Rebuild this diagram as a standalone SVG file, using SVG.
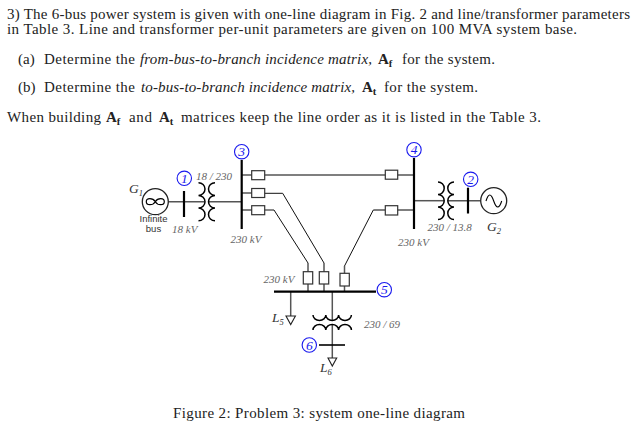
<svg xmlns="http://www.w3.org/2000/svg" width="638" height="434" viewBox="0 0 638 434">
<style>
.t{font-family:"Liberation Serif","Times New Roman",serif;font-size:15px;fill:#222}
.i{font-style:italic}
.b{font-weight:bold}
.s{font-size:10.500px;font-weight:bold}
.lab{font-family:"Liberation Serif",serif;font-style:italic;font-size:11px;fill:#666}
.dk{fill:#333;font-size:13.500px}
.sub{font-size:8.500px}
.num{font-family:"Liberation Serif",serif;font-style:italic;font-size:13.500px;fill:#1a1aee;text-anchor:middle}
.id{fill:#fff;stroke:#1a1aee;stroke-width:1.100}
.bus{stroke:#000;stroke-width:2.200;fill:none}
.wire{stroke:#555;stroke-width:1.500;fill:none}
.diag{stroke:#111;stroke-width:1;fill:none}
.box{fill:#fff;stroke:#333;stroke-width:1.200}
.coil{fill:none;stroke:#000;stroke-width:1.500}
.gen{fill:#fff;stroke:#222;stroke-width:1.300}
.load{fill:#fff;stroke:#222;stroke-width:1.100}
.sans{font-family:"Liberation Sans",Arial,sans-serif;font-size:9.500px;fill:#333;text-anchor:middle}
</style>

<g id="problem-text">
<text class="t" x="7" y="19" textLength="623" lengthAdjust="spacing">3) The 6-bus power system is given with one-line diagram in Fig. 2 and line/transformer parameters</text>
<text class="t" x="7" y="34" textLength="570" lengthAdjust="spacing">in Table 3. Line and transformer per-unit parameters are given on 100 MVA system base.</text>
<text class="t" x="18" y="64">(a)</text>
<text class="t" x="44" y="64" textLength="91" lengthAdjust="spacing">Determine the</text>
<text class="t i" x="140" y="64" textLength="232" lengthAdjust="spacing">from-bus-to-branch incidence matrix,</text>
<text class="t b" x="378" y="64">A<tspan class="s" dy="2.500">f</tspan></text>
<text class="t" x="402" y="64" textLength="93" lengthAdjust="spacing">for the system.</text>
<text class="t" x="18" y="92">(b)</text>
<text class="t" x="44" y="92" textLength="91" lengthAdjust="spacing">Determine the</text>
<text class="t i" x="141" y="92" textLength="214" lengthAdjust="spacing">to-bus-to-branch incidence matrix,</text>
<text class="t b" x="362" y="92">A<tspan class="s" dy="2.500">t</tspan></text>
<text class="t" x="384" y="92" textLength="94" lengthAdjust="spacing">for the system.</text>
<text class="t" x="7" y="122" textLength="94" lengthAdjust="spacing">When building</text>
<text class="t b" x="106" y="122">A<tspan class="s" dy="2.500">f</tspan></text>
<text class="t" x="129" y="122" textLength="23" lengthAdjust="spacing">and</text>
<text class="t b" x="159" y="122">A<tspan class="s" dy="2.500">t</tspan></text>
<text class="t" x="181" y="122" textLength="360" lengthAdjust="spacing">matrices keep the line order as it is listed in the Table 3.</text>
</g>

<g id="connectors">
<path class="wire" d="M168 201.700H204.500"/>
<path class="wire" d="M208.500 201.700H242"/>
<path class="wire" d="M242 175H414"/>
<path class="wire" d="M242 193H265"/>
<path class="wire" d="M242 210H265"/>
<path class="diag" d="M265 193.300H282.700L324 263"/>
<path class="wire" d="M324 263V292"/>
<path class="diag" d="M265 210H274L308 263"/>
<path class="wire" d="M308 263V292"/>
<path class="wire" d="M397 210H414"/>
<path class="wire" d="M385 210H373.300"/>
<path class="diag" d="M373.300 210L344.500 266"/>
<path class="wire" d="M344.500 266V292"/>
<path class="wire" d="M414 200.700H444"/>
<path class="wire" d="M448 200.700H481"/>
<path class="wire" d="M290.700 292V316"/>
<path class="wire" d="M332.300 292V320.500"/>
<path class="wire" d="M332.300 324.500V358"/>
<path class="wire" d="M316 345H302"/>
</g>

<g id="bus1">
<path class="bus" d="M184 191V217"/>
<circle class="id" cx="184.300" cy="178.300" r="7.200"/>
<text class="num" x="184.300" y="182.700">1</text>
<text class="lab" x="172" y="233">18 kV</text>
</g>
<g id="bus2">
<path class="bus" d="M468 187.700V213.500"/>
<circle class="id" cx="470.700" cy="179.300" r="7.200"/>
<text class="num" x="470.700" y="183.700">2</text>
</g>
<g id="bus3">
<path class="bus" d="M241.700 160V229"/>
<circle class="id" cx="241.700" cy="151.700" r="7.200"/>
<text class="num" x="241.700" y="156.200">3</text>
<text class="lab" x="230.500" y="242.500">230 kV</text>
</g>
<g id="bus4">
<path class="bus" d="M414 158V229"/>
<circle class="id" cx="414" cy="149.700" r="7.200"/>
<text class="num" x="414" y="154.200">4</text>
<text class="lab" x="398" y="246">230 kV</text>
</g>
<g id="bus5">
<path class="bus" d="M274 291.700H376"/>
<circle class="id" cx="384.300" cy="289.700" r="7.200"/>
<text class="num" x="384.300" y="294.200">5</text>
<text class="lab" x="263.500" y="283">230 kV</text>
</g>
<g id="bus6">
<path class="bus" d="M319 345H345" style="stroke-width:1.600"/>
<circle class="id" cx="309.300" cy="345" r="7.200"/>
<text class="num" x="309.300" y="349.500">6</text>
</g>

<g id="g1">
<circle class="gen" cx="155.300" cy="201.700" r="13"/>
<path class="coil" d="M155.300 201.700c-2.500-4-9-4-9 0s6.500 4 9 0c2.500-4 9-4 9 0s-6.500 4-9 0z" style="stroke-width:1.200"/>
<text class="lab dk" x="129" y="193">G<tspan class="sub" dy="2.500">1</tspan></text>
<text class="sans" x="153.500" y="222">Infinite</text>
<text class="sans" x="153.500" y="232">bus</text>
</g>
<g id="g2">
<circle class="gen" cx="493.700" cy="200.700" r="13"/>
<path d="M486 201c2.500-8 5-8 7.700 0s5.500 8 8 0" class="coil" style="stroke-width:1.100"/>
<text class="lab dk" x="487" y="231">G<tspan class="sub" dy="2.500">2</tspan></text>
</g>

<g id="t1">
<path class="coil" d="M198.500 182.700a6.500 6.350 0 0 1 0 12.700a6.500 6.350 0 0 1 0 12.700a6.500 6.350 0 0 1 0 12.700"/>
<path class="coil" d="M215 182.700a6.500 6.350 0 0 0 0 12.700a6.500 6.350 0 0 0 0 12.700a6.500 6.350 0 0 0 0 12.700"/>
<text class="lab" x="196" y="180">18 / 230</text>
</g>
<g id="t2">
<path class="coil" d="M438 182a6.200 6.250 0 0 1 0 12.500a6.200 6.250 0 0 1 0 12.500a6.200 6.250 0 0 1 0 12.500"/>
<path class="coil" d="M454 182a6.200 6.250 0 0 0 0 12.500a6.200 6.250 0 0 0 0 12.500a6.200 6.250 0 0 0 0 12.500"/>
<text class="lab" x="427.500" y="231">230 / 13.8</text>
</g>
<g id="t3">
<path class="coil" d="M313 315a6.400 5.500 0 0 0 12.800 0a6.400 5.500 0 0 0 12.800 0a6.400 5.500 0 0 0 12.800 0"/>
<path class="coil" d="M313 330a6.400 5.500 0 0 1 12.800 0a6.400 5.500 0 0 1 12.800 0a6.400 5.500 0 0 1 12.800 0"/>
<text class="lab" x="364" y="328">230 / 69</text>
</g>

<g id="breakers">
<rect class="box" x="251.700" y="170.700" width="13" height="9"/>
<rect class="box" x="251.700" y="188.500" width="13" height="9"/>
<rect class="box" x="251.700" y="205.700" width="13" height="9"/>
<rect class="box" x="385.300" y="170.200" width="12.400" height="9"/>
<rect class="box" x="385.300" y="205.700" width="12.400" height="9.300"/>
<rect class="box" x="303.300" y="271.700" width="9.400" height="12.300"/>
<rect class="box" x="319.300" y="271.700" width="9.400" height="12.300"/>
<rect class="box" x="340" y="273.300" width="9.300" height="12.700"/>
</g>

<g id="l5">
<path class="load" d="M286 316H295.400L290.700 324.500Z"/>
<text class="lab dk" x="272" y="322">L<tspan class="sub" dy="2.500">5</tspan></text>
</g>
<g id="l6">
<path class="load" d="M328 358H336.700L332.300 366Z"/>
<text class="lab dk" x="320" y="372">L<tspan class="sub" dy="2.500">6</tspan></text>
</g>

<g id="caption">
<text class="t" x="173" y="418" textLength="292" lengthAdjust="spacing">Figure 2: Problem 3: system one-line diagram</text>
</g>
</svg>
